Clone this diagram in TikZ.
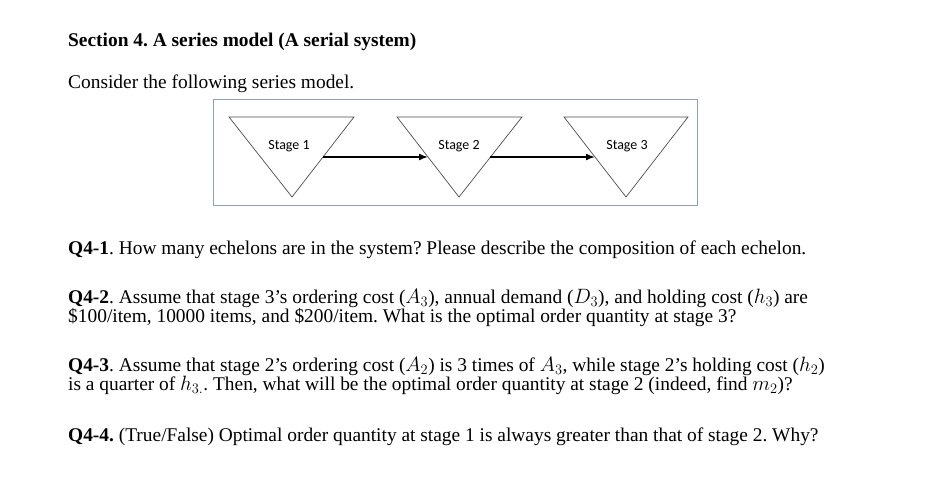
\documentclass[tikz,border=0pt]{standalone}
\usepackage{fontspec}
\usetikzlibrary{arrows.meta}
\setmainfont{Liberation Serif}
\newfontfamily\calibri{Carlito}
\frenchspacing
\begin{document}
\begin{tikzpicture}[x=1pt,y=-1pt,
  txt/.style={anchor=base west,inner sep=0pt,font=\fontsize{19.4}{22}\selectfont},
  tri/.style={draw=black!70,line width=0.7pt},
  lbl/.style={font=\calibri\fontsize{14}{16}\selectfont},
  arr/.style={-{Latex[length=9pt,width=7pt]},line width=1.5pt}]
\useasboundingbox (0,0) rectangle (925,487);
\node[txt] (t0) at (68,46) {\textbf{Section 4. A series model (A serial system)}};
\node[txt] (t1) at (68,88) {Consider the following series model.};
\draw[draw={rgb,255:red,140;green,160;blue,190},line width=0.8pt] (213,99) rectangle (697,205);
\draw[tri] (229,117) -- (354,117) -- (292,197) -- cycle;
\draw[tri] (397,117) -- (522,117) -- (459,197) -- cycle;
\draw[tri] (564,117) -- (688,117) -- (626,197) -- cycle;
\node[lbl] (s1) at (289,146) {Stage 1};
\node[lbl] (s2) at (459,146) {Stage 2};
\node[lbl] (s3) at (627,146) {Stage 3};
\coordinate (a1) at (323,157); \coordinate (b1) at (428,157);
\coordinate (a2) at (490,157); \coordinate (b2) at (595,157);
\draw[arr] (a1) -- (b1);
\draw[arr] (a2) -- (b2);
\node[txt] (q1) at (68,254) {\textbf{Q4-1}. How many echelons are in the system? Please describe the composition of each echelon.};
\node[txt] (q2a) at (68,303) {\textbf{Q4-2}. Assume that stage 3's ordering cost ($A_3$), annual demand ($D_3$), and holding cost ($h_3$) are};
\node[txt] (q2b) at (68,322) {\$100/item, 10000 items, and \$200/item. What is the optimal order quantity at stage 3?};
\node[txt] (q3a) at (68,371) {\textbf{Q4-3}. Assume that stage 2's ordering cost ($A_2$) is 3 times of $A_3$, while stage 2's holding cost ($h_2$)};
\node[txt] (q3b) at (68,390) {is a quarter of $h_{3.}$. Then, what will be the optimal order quantity at stage 2 (indeed, find $m_2$)?};
\node[txt] (q4) at (68,441) {\textbf{Q4-4.} (True/False) Optimal order quantity at stage 1 is always greater than that of stage 2. Why?};
\end{tikzpicture}
\end{document}
